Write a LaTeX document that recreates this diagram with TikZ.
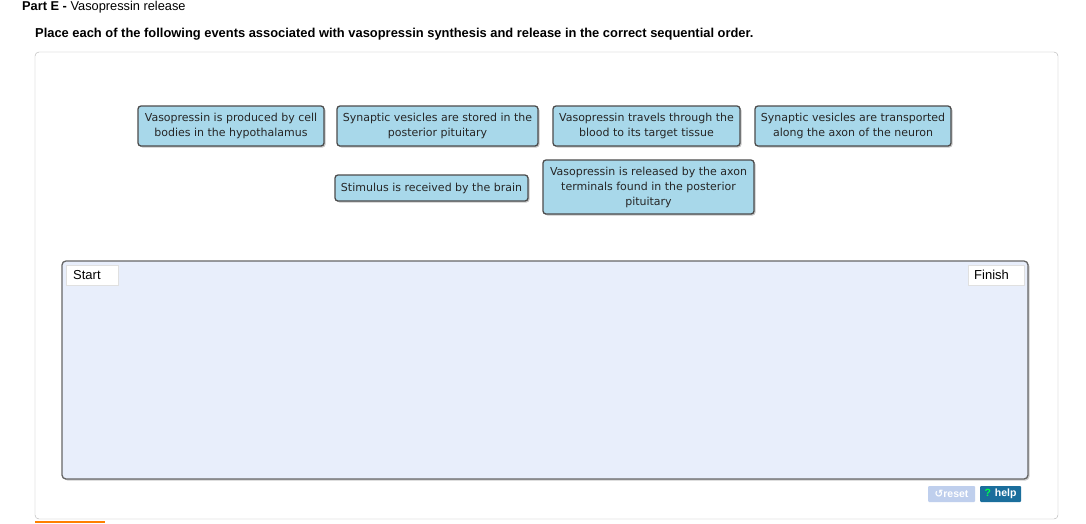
\documentclass[tikz,border=0pt]{standalone}
\usepackage{fontspec}
\setmainfont{DejaVu Sans}
\newfontfamily\arialf{Liberation Sans}
\newfontfamily\djv{DejaVu Sans}
\usetikzlibrary{shadows}
\definecolor{cardblue}{HTML}{A8D8EA}
\definecolor{zone}{HTML}{E8EEFB}
\definecolor{helpc}{HTML}{1A6E9C}
\begin{document}
\begin{tikzpicture}[x=1pt,y=-1pt,
 card/.style={draw=black!70,line width=1.3pt,fill=cardblue,rounded corners=3pt,align=center,inner sep=0pt,
   font=\fontsize{11}{15}\selectfont,text=black!85,
   drop shadow={shadow xshift=1.5pt,shadow yshift=-1.5pt,opacity=0.45}},
 lbl/.style={fill=white,draw=black!12,inner sep=0pt,font=\arialf\fontsize{13}{15}\selectfont,anchor=west}]
\useasboundingbox (0,0) rectangle (1086,523);
\fill[white] (0,0) rectangle (1086,523);
\node[anchor=west,font=\arialf\fontsize{12.8}{14}\selectfont,inner sep=0] (title) at (22,7) {\textbf{Part E -} Vasopressin release};
\node[anchor=west,font=\arialf\bfseries\fontsize{12.9}{14}\selectfont,inner sep=0] (instr) at (35,34) {Place each of the following events associated with vasopressin synthesis and release in the correct sequential order.};
\draw[black!30,rounded corners=4pt] (35,52) rectangle (1058,519);
\node[card,minimum width=186,minimum height=40] (c1) at (231,126) {Vasopressin is produced by cell\\bodies in the hypothalamus};
\node[card,minimum width=201,minimum height=40] (c2) at (437.5,126) {Synaptic vesicles are stored in the\\posterior pituitary};
\node[card,minimum width=187,minimum height=40] (c3) at (646.5,126) {Vasopressin travels through the\\blood to its target tissue};
\node[card,minimum width=196,minimum height=40] (c4) at (853,126) {Synaptic vesicles are transported\\along the axon of the neuron};
\node[card,minimum width=193,minimum height=26] (c5) at (431.5,188) {Stimulus is received by the brain};
\node[card,minimum width=211,minimum height=54] (c6) at (648.5,187) {Vasopressin is released by the axon\\terminals found in the posterior\\pituitary};
\draw[black!60,line width=1.3pt,fill=zone,rounded corners=4pt,drop shadow={shadow xshift=1.5pt,shadow yshift=-1.5pt,opacity=0.4}] (62,261) rectangle (1028,479);
\node[lbl,minimum width=52,minimum height=20,text width=48,align=left,inner xsep=2pt] (start) at (66,275) {\hspace*{5pt}Start};
\node[lbl,minimum width=56,minimum height=20,text width=52,align=left,inner xsep=2pt] (finish) at (968,275) {\hspace*{4pt}Finish};
\node[fill=cyan!50!blue!25,rounded corners=1pt,minimum width=47,minimum height=16,inner sep=0,text=white,font=\arialf\bfseries\fontsize{10.5}{12}\selectfont] (reset) at (951.5,494) {{\djv ↺}reset};
\node[fill=helpc,rounded corners=1pt,minimum width=41,minimum height=16,inner sep=0,text=white,font=\arialf\bfseries\fontsize{10.5}{12}\selectfont] (help) at (1000.5,494) {\textcolor{green!70!cyan}{?} help};
\fill[orange] (35,521) rectangle (105,523);
\end{tikzpicture}
\end{document}
